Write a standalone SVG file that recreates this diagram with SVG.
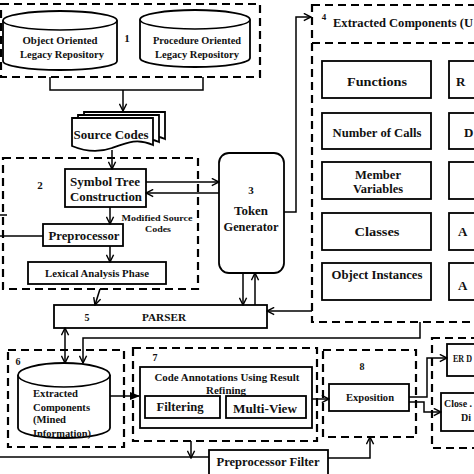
<svg xmlns="http://www.w3.org/2000/svg" width="474" height="474" viewBox="0 0 474 474">
<style>
.dash{fill:none;stroke:#000;stroke-width:2.2;stroke-dasharray:8 5}
.box{fill:#fff;stroke:#000;stroke-width:1.8}
.ln{fill:none;stroke:#000;stroke-width:1.5}
text{font-family:"Liberation Serif","Times New Roman",serif;font-weight:bold;fill:#111}
.c{text-anchor:middle}
</style>
<defs>
<marker id="a" viewBox="0 0 10 10" refX="9" refY="5" markerWidth="9" markerHeight="9" markerUnits="userSpaceOnUse" orient="auto-start-reverse">
<path d="M1,1 L9,5 L1,9" fill="none" stroke="#000" stroke-width="1.6"/>
</marker>
<marker id="f" viewBox="0 0 10 10" refX="9" refY="5" markerWidth="10" markerHeight="10" markerUnits="userSpaceOnUse" orient="auto">
<path d="M0,1 L10,5 L0,9 Z" fill="#000"/>
</marker>
</defs>
<rect width="474" height="474" fill="#fff"/>

<g id="group1">
<rect class="dash" x="1" y="4" width="259" height="73"/>
<text x="127" y="42" class="c" font-size="11">1</text>
</g>
<g id="repo-oo">
<path class="box" d="M3,20.5 A57,9.5 0 0,1 117,20.5 V61 A57,9 0 0,1 3,61 Z"/>
<path class="ln" d="M3,20.5 A57,9.5 0 0,0 117,20.5"/>
<text x="60" y="44" class="c" font-size="10.5" textLength="75" lengthAdjust="spacingAndGlyphs">Object Oriented</text>
<text x="62" y="58" class="c" font-size="10.5" textLength="84" lengthAdjust="spacingAndGlyphs">Legacy Repository</text>
</g>
<g id="repo-po">
<path class="box" d="M140,19.5 A55,9.5 0 0,1 250,19.5 V58 A55,9 0 0,1 140,58 Z"/>
<path class="ln" d="M140,19.5 A55,9.5 0 0,0 250,19.5"/>
<text x="197" y="44" class="c" font-size="10.5" textLength="88" lengthAdjust="spacingAndGlyphs">Procedure Oriented</text>
<text x="197" y="58" class="c" font-size="10.5" textLength="84" lengthAdjust="spacingAndGlyphs">Legacy Repository</text>
</g>

<g id="source-codes">
<path class="box" transform="translate(12,-6)" d="M72,118 H153 V145 C138,138 128,142 112,148 C98,153 84,151 72,146 Z"/>
<path class="box" transform="translate(6,-3)" d="M72,118 H153 V145 C138,138 128,142 112,148 C98,153 84,151 72,146 Z"/>
<path class="box" d="M72,118 H153 V145 C138,138 128,142 112,148 C98,153 84,151 72,146 Z"/>
<text x="111" y="139" class="c" font-size="13" textLength="75" lengthAdjust="spacingAndGlyphs">Source Codes</text>
</g>

<g id="group2">
<rect class="dash" x="3" y="158" width="195" height="131"/>
<text x="40" y="189" class="c" font-size="11">2</text>
</g>
<g id="symbol-tree">
<rect class="box" x="65" y="169" width="81" height="38"/>
<text x="105" y="186" class="c" font-size="12.5" textLength="70" lengthAdjust="spacingAndGlyphs">Symbol Tree</text>
<text x="106" y="201" class="c" font-size="12.5" textLength="72" lengthAdjust="spacingAndGlyphs">Construction</text>
</g>
<g id="modified-label">
<text x="157" y="221" class="c" font-size="9" textLength="71" lengthAdjust="spacingAndGlyphs">Modified Source</text>
<text x="158" y="232" class="c" font-size="9" textLength="26" lengthAdjust="spacingAndGlyphs">Codes</text>
</g>
<g id="preprocessor">
<rect class="box" x="43" y="224" width="80" height="22"/>
<text x="84" y="240" class="c" font-size="12.5" textLength="71" lengthAdjust="spacingAndGlyphs">Preprocessor</text>
</g>
<g id="lexical">
<rect class="box" x="28" y="262" width="138" height="22"/>
<text x="97" y="276.5" class="c" font-size="10" textLength="104" lengthAdjust="spacingAndGlyphs">Lexical Analysis Phase</text>
</g>

<g id="token-generator">
<rect class="box" x="219" y="153" width="65" height="120" rx="10"/>
<text x="251" y="194" class="c" font-size="11">3</text>
<text x="251" y="215" class="c" font-size="12.5" textLength="34" lengthAdjust="spacingAndGlyphs">Token</text>
<text x="251" y="231" class="c" font-size="12.5" textLength="55" lengthAdjust="spacingAndGlyphs">Generator</text>
</g>

<g id="parser">
<rect class="box" x="54" y="305" width="213" height="23"/>
<text x="87" y="320.5" class="c" font-size="10">5</text>
<text x="164" y="320.5" class="c" font-size="10.5" textLength="44" lengthAdjust="spacingAndGlyphs">PARSER</text>
</g>

<g id="group4">
<rect class="dash" x="312" y="5" width="200" height="317"/>
<line class="dash" x1="312" y1="43" x2="474" y2="43"/>
<text x="324" y="20" class="c" font-size="9">4</text>
<text x="333" y="27" font-size="11.5" textLength="140" lengthAdjust="spacingAndGlyphs">Extracted Components (U</text>
</g>
<g id="comp-functions"><rect class="box" x="322" y="61" width="109" height="37"/><text x="377" y="86" class="c" font-size="13" textLength="60" lengthAdjust="spacingAndGlyphs">Functions</text></g>
<g id="comp-calls"><rect class="box" x="322" y="113" width="109" height="36"/><text x="377" y="137" class="c" font-size="13" textLength="89" lengthAdjust="spacingAndGlyphs">Number of Calls</text></g>
<g id="comp-member"><rect class="box" x="322" y="162" width="109" height="37"/><text x="378" y="179" class="c" font-size="12.5" textLength="46" lengthAdjust="spacingAndGlyphs">Member</text><text x="378" y="193" class="c" font-size="12.5" textLength="50" lengthAdjust="spacingAndGlyphs">Variables</text></g>
<g id="comp-classes"><rect class="box" x="322" y="213" width="109" height="37"/><text x="377" y="236" class="c" font-size="13" textLength="45" lengthAdjust="spacingAndGlyphs">Classes</text></g>
<g id="comp-objects"><rect class="box" x="322" y="263" width="109" height="37"/><text x="377" y="279" class="c" font-size="12.5" textLength="91" lengthAdjust="spacingAndGlyphs">Object Instances</text></g>
<g id="comp-r"><rect class="box" x="449" y="61" width="40" height="37"/><text x="456" y="86" font-size="13">R</text></g>
<g id="comp-d"><rect class="box" x="449" y="113" width="40" height="36"/><text x="464" y="137" font-size="13">D</text></g>
<g id="comp-e"><rect class="box" x="449" y="162" width="40" height="37"/></g>
<g id="comp-a1"><rect class="box" x="449" y="213" width="40" height="37"/><text x="458" y="236" font-size="13">A</text></g>
<g id="comp-a2"><rect class="box" x="449" y="263" width="40" height="37"/><text x="458" y="290" font-size="13">A</text></g>

<g id="group6">
<rect class="dash" x="8" y="350" width="116" height="97"/>
<text x="18" y="365" class="c" font-size="10">6</text>
</g>
<g id="mined-db">
<path class="box" d="M18,375 A46,12 0 0,1 110,375 V428 A46,10 0 0,1 18,428 Z"/>
<path class="ln" d="M18,375 A46,12 0 0,0 110,375"/>
<text x="33" y="397" font-size="10.5" textLength="45" lengthAdjust="spacingAndGlyphs">Extracted</text>
<text x="33" y="411" font-size="10.5" textLength="57" lengthAdjust="spacingAndGlyphs">Components</text>
<text x="33" y="423" font-size="10.5" textLength="33" lengthAdjust="spacingAndGlyphs">(Mined</text>
<text x="33" y="437" font-size="10.5" textLength="58" lengthAdjust="spacingAndGlyphs">Information)</text>
</g>

<g id="group7">
<rect class="dash" x="133" y="348" width="184" height="93"/>
<text x="155" y="361" class="c" font-size="10">7</text>
</g>
<g id="code-annotations">
<rect class="box" x="140" y="367" width="172" height="61"/>
<text x="227" y="381" class="c" font-size="10.5" textLength="145" lengthAdjust="spacingAndGlyphs">Code Annotations Using Result</text>
<text x="226" y="394" class="c" font-size="10.5" textLength="40" lengthAdjust="spacingAndGlyphs">Refining</text>
</g>
<g id="filtering"><rect class="box" x="145" y="396" width="75" height="22"/><text x="180" y="411" class="c" font-size="12.5" textLength="47" lengthAdjust="spacingAndGlyphs">Filtering</text></g>
<g id="multiview"><rect class="box" x="226" y="396" width="80" height="22"/><text x="265" y="413" class="c" font-size="12.5" textLength="64" lengthAdjust="spacingAndGlyphs">Multi-View</text></g>

<g id="preprocessor-filter">
<rect class="box" x="209" y="450" width="119" height="30"/>
<text x="268" y="466" class="c" font-size="12.5" textLength="103" lengthAdjust="spacingAndGlyphs">Preprocessor Filter</text>
</g>

<g id="group8">
<rect class="dash" x="323" y="350" width="93" height="87"/>
<text x="362" y="370" class="c" font-size="10">8</text>
</g>
<g id="exposition">
<rect class="box" x="329" y="384" width="80" height="27"/>
<text x="370" y="401" class="c" font-size="10.5" textLength="48" lengthAdjust="spacingAndGlyphs">Exposition</text>
</g>

<g id="group9">
<rect class="dash" x="432" y="338" width="60" height="110"/>
</g>
<g id="er"><rect class="box" x="447" y="344" width="40" height="32"/><text x="453" y="362" font-size="9.5" textLength="19" lengthAdjust="spacingAndGlyphs">ER D</text></g>
<g id="close"><rect class="box" x="441" y="393" width="40" height="38"/><text x="444" y="407" font-size="10" textLength="28" lengthAdjust="spacingAndGlyphs">Close .</text><text x="461" y="421" font-size="10">Di</text></g>

<g id="connectors">
<path class="ln" d="M50,77 V90 H203 V77"/>
<path class="ln" d="M123,90 V111" marker-end="url(#a)"/>
<path class="ln" d="M112,150 V169" marker-end="url(#a)"/>
<path class="ln" d="M146,182 H219" marker-end="url(#a)"/>
<path class="ln" d="M219,193 H146" marker-end="url(#a)"/>
<path class="ln" d="M110,207 V224" marker-end="url(#a)"/>
<path class="ln" d="M110,246 V262" marker-end="url(#a)"/>
<path class="ln" d="M0,236 H43"/>
<path class="ln" d="M0,215 H7"/>
<path class="ln" d="M284,212 H296 V17 H311" marker-end="url(#a)"/>
<path class="ln" d="M243,273 V305" marker-end="url(#a)"/>
<path class="ln" d="M255,305 V273" marker-end="url(#a)"/>
<path class="ln" d="M100,289 L95,305" marker-end="url(#a)"/>
<path class="ln" d="M312,311 H267" marker-end="url(#a)"/>
<path class="ln" d="M420,322 V338 H83 V363" marker-end="url(#a)"/>
<path class="ln" d="M65,328 V363" marker-start="url(#a)" marker-end="url(#a)"/>
<path class="ln" d="M110,396 H139" marker-end="url(#f)"/>
<path class="ln" d="M312,399 H329" marker-end="url(#a)"/>
<path class="ln" d="M191,441 V458" marker-end="url(#a)"/>
<path class="ln" d="M0,457 H209"/>
<path class="ln" d="M328,458 H370 V437" marker-end="url(#a)"/>
<path class="ln" d="M409,397 H427 V358 H447" marker-end="url(#a)"/>
<path class="ln" d="M409,402 H424 V412 H441" marker-end="url(#a)"/>
</g>
</svg>
